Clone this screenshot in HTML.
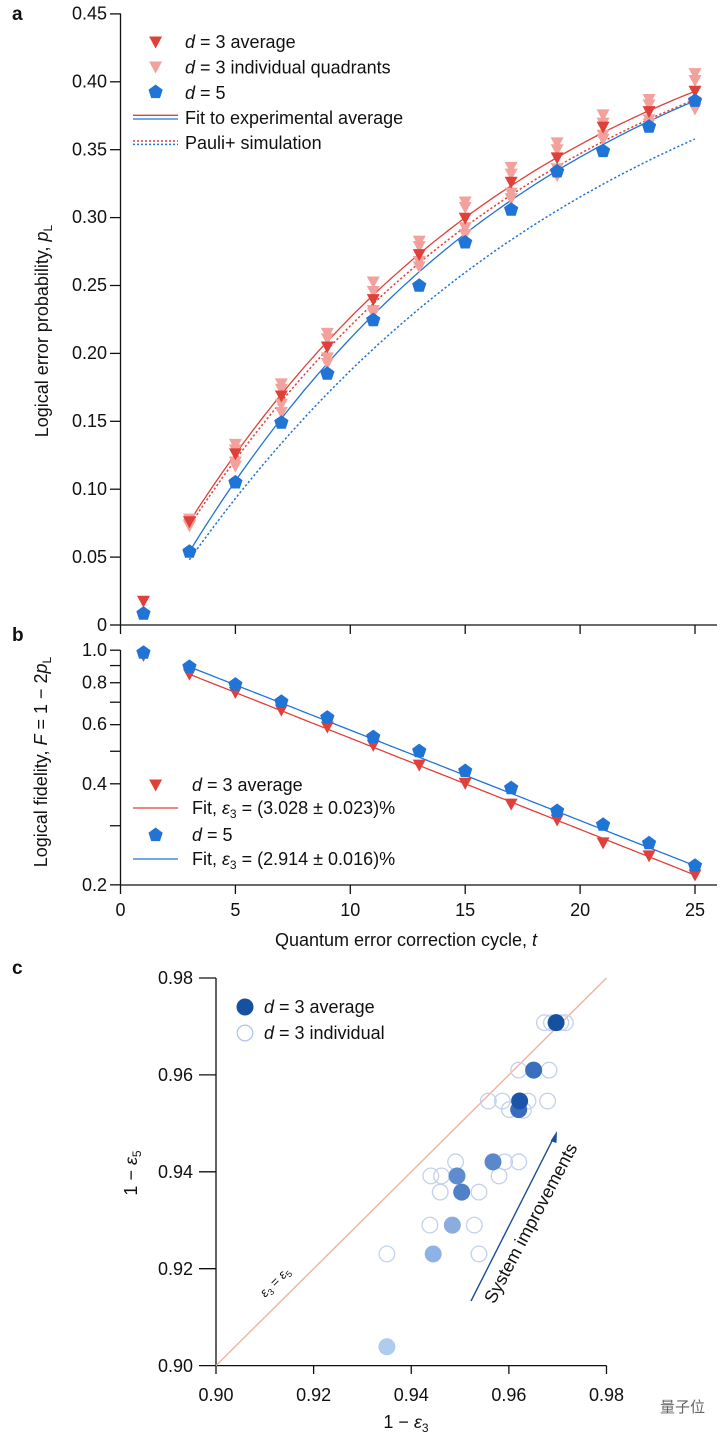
<!DOCTYPE html>
<html><head><meta charset="utf-8"><style>
body{margin:0;background:#fff}
svg{display:block;font-family:"Liberation Sans","Noto Sans CJK SC",sans-serif}
</style></head><body>
<svg id="s" width="724" height="1438" viewBox="0 0 724 1438" xmlns="http://www.w3.org/2000/svg">
<g id="g"></g>
<g font-size="18" fill="#111">
<text x="12" y="20" font-weight="bold" font-size="19">a</text>
<text x="12" y="641" font-weight="bold" font-size="19">b</text>
<text x="12" y="974" font-weight="bold" font-size="19">c</text>
<g text-anchor="end">
<text x="107" y="19.5">0.45</text><text x="107" y="87.5">0.40</text><text x="107" y="155.5">0.35</text>
<text x="107" y="223">0.30</text><text x="107" y="291">0.25</text><text x="107" y="359">0.20</text>
<text x="107" y="427">0.15</text><text x="107" y="495">0.10</text><text x="107" y="563">0.05</text>
<text x="107" y="631">0</text>
<text x="107" y="656">1.0</text><text x="107" y="688.5">0.8</text><text x="107" y="730">0.6</text>
<text x="107" y="790">0.4</text><text x="107" y="891">0.2</text>
<text x="193" y="984">0.98</text><text x="193" y="1081">0.96</text><text x="193" y="1178">0.94</text>
<text x="193" y="1275">0.92</text><text x="193" y="1372">0.90</text>
</g>
<g text-anchor="middle">
<text x="120.5" y="916">0</text><text x="235.4" y="916">5</text><text x="350.3" y="916">10</text>
<text x="465.2" y="916">15</text><text x="580.1" y="916">20</text><text x="695" y="916">25</text>
<text x="406" y="946">Quantum error correction cycle, <tspan font-style="italic">t</tspan></text>
<text x="216" y="1401">0.90</text><text x="313.6" y="1401">0.92</text><text x="411.3" y="1401">0.94</text>
<text x="508.9" y="1401">0.96</text><text x="606.5" y="1401">0.98</text>
<text x="406" y="1428">1 − <tspan font-style="italic">ε</tspan><tspan font-size="12" dy="4">3</tspan></text>
<text transform="translate(48,331) rotate(-90)">Logical error probability, <tspan font-style="italic">p</tspan><tspan font-size="12" dy="4">L</tspan></text>
<text transform="translate(47,762) rotate(-90)">Logical fidelity, <tspan font-style="italic">F</tspan> = 1 − 2<tspan font-style="italic">p</tspan><tspan font-size="12" dy="4">L</tspan></text>
<text transform="translate(137,1173) rotate(-90)">1 − <tspan font-style="italic">ε</tspan><tspan font-size="12" dy="4">5</tspan></text>
<text transform="translate(536,1226) rotate(-62)" font-size="18">System improvements</text>
<text transform="translate(278,1285) rotate(-45)" font-size="13"><tspan font-style="italic">ε</tspan><tspan font-size="9" dy="3">3</tspan><tspan dy="-3"> = </tspan><tspan font-style="italic">ε</tspan><tspan font-size="9" dy="3">5</tspan></text>
</g>
<text x="185" y="48"><tspan font-style="italic">d</tspan> = 3 average</text>
<text x="185" y="73.5"><tspan font-style="italic">d</tspan> = 3 individual quadrants</text>
<text x="185" y="99"><tspan font-style="italic">d</tspan> = 5</text>
<text x="185" y="124">Fit to experimental average</text>
<text x="185" y="149">Pauli+ simulation</text>
<text x="192" y="791"><tspan font-style="italic">d</tspan> = 3 average</text>
<text x="192" y="814">Fit, <tspan font-style="italic">ε</tspan><tspan font-size="12" dy="4">3</tspan><tspan dy="-4"> = (3.028 ± 0.023)%</tspan></text>
<text x="192" y="841"><tspan font-style="italic">d</tspan> = 5</text>
<text x="192" y="865">Fit, <tspan font-style="italic">ε</tspan><tspan font-size="12" dy="4">3</tspan><tspan dy="-4"> = (2.914 ± 0.016)%</tspan></text>
<text x="264" y="1013"><tspan font-style="italic">d</tspan> = 3 average</text>
<text x="264" y="1039"><tspan font-style="italic">d</tspan> = 3 individual</text>
<text x="660" y="1412" fill="#666" font-size="15">量子位</text>
</g>
</svg>
<script>
const g=document.getElementById('g');let h='';
const X=t=>120.5+t*22.98,Ya=p=>625-p/0.05*67.9,Yb=F=>650.2-Math.log(F)*145.8;
const RED='#e0403a',PINK='#f2a19c',BLUE='#1f74d6';
const L=(x1,y1,x2,y2,c='#111',w=1.3,extra='')=>h+=`<line x1="${x1}" y1="${y1}" x2="${x2}" y2="${y2}" stroke="${c}" stroke-width="${w}" ${extra}/>`;
const tri=(x,y,c)=>h+=`<polygon points="${x-6.5},${y-5.5} ${x+6.5},${y-5.5} ${x},${y+6.5}" fill="${c}"/>`;
const pent=(x,y,c)=>{let p=[];for(let i=0;i<5;i++){let a=-Math.PI/2+i*2*Math.PI/5;p.push((x+7.5*Math.cos(a)).toFixed(1)+','+(y+7.5*Math.sin(a)).toFixed(1));}h+=`<polygon points="${p.join(' ')}" fill="${c}"/>`;};
L(120.5,13.5,120.5,625);L(120.5,625,717,625);
for(let i=0;i<=9;i++){L(110,Ya(i*0.05),120.5,Ya(i*0.05));}
for(let t=0;t<=25;t+=5){L(X(t),625,X(t),634);}
L(120.5,650,120.5,885);L(120.5,885,717,885);
[1,.9,.8,.7,.6,.5,.4,.3,.2].forEach(f=>L(110,Yb(f),120.5,Yb(f)));
for(let t=0;t<=25;t+=5){L(X(t),885,X(t),894);}
const T=[1,3,5,7,9,11,13,15,17,19,21,23,25];
const P3=[.0175,.076,.126,.1686,.2047,.2396,.2727,.2995,.326,.344,.3666,.378,.393];
const P5=[.0084,.054,.105,.149,.185,.2245,.2498,.2817,.3058,.334,.349,.367,.386];
const off=[[.008,.004,-.003,-.008],[.002,-.002,0,-.003],[.007,.003,-.006,-.009],[.009,.005,-.006,-.012],[.01,.006,-.008,-.012],[.013,.006,-.008,-.01],[.01,.006,-.005,-.009],[.012,.008,-.007,-.012],[.011,.006,-.008,-.012],[.011,.006,-.008,-.013],[.009,.003,-.006,-.009],[.009,.005,-.006,-.009],[.013,.008,-.008,-.013]];
function curve(A,k,fp,c,dash,w){let a=[],b=[];for(let t=3;t<=25.01;t+=0.25){let F=A*Math.exp(-k*(t-3));a.push(X(t).toFixed(1)+','+Ya((1-F)/2).toFixed(1));b.push(X(t).toFixed(1)+','+Yb(F).toFixed(1));}
h+=`<polyline points="${a.join(' ')}" fill="none" stroke="${c}" stroke-width="${w}" ${dash?'stroke-dasharray="2.2,2.2"':''}/>`;if(fp)h+=`<polyline points="${b.join(' ')}" fill="none" stroke="${c}" stroke-width="${w}"/>`;}
curve(0.854,0.0604,false,RED,true,1.5);
curve(0.904,0.0526,false,BLUE,true,1.5);
curve(0.848,0.0626,true,RED,false,1.3);
curve(0.892,0.062,true,BLUE,false,1.3);
T.forEach((t,i)=>{if(i>0)off[i].forEach(o=>tri(X(t),Ya(P3[i]+o),PINK));});
T.forEach((t,i)=>{tri(X(t),Ya(P3[i]),RED);pent(X(t),Ya(P5[i]),BLUE);
 tri(X(t),Yb(1-2*P3[i]),RED);pent(X(t),Yb(1-2*P5[i]),BLUE);});
tri(155.6,42,RED);tri(155.6,67,PINK);pent(155.6,92,BLUE);
L(133,115.3,178,115.3,RED);L(133,119,178,119,BLUE);
L(133,141,178,141,RED,1.5,'stroke-dasharray="2,2"');L(133,144.4,178,144.4,BLUE,1.5,'stroke-dasharray="2,2"');
tri(155.6,785,RED);L(133,808,178,808,RED);pent(155.6,835,BLUE);L(133,859,178,859,BLUE);
const Xc=v=>216+(v-.9)/.08*390.5,Yc=v=>1365.6-(v-.9)/.08*387.6;
L(216,978,216,1365.6);L(216,1365.6,606.5,1365.6);
[.9,.92,.94,.96,.98].forEach(v=>{L(199,Yc(v),216,Yc(v));L(Xc(v),1365.6,Xc(v),1374);});
L(216,1365.6,606.5,978,'#f0b49c',1.4);
const zx=x=>x/2.14,zy=y=>900+y/2.91;
const open=[[1165,357],[1180,357],[1200,357],[1210,357],[1110,495],[1175,495],[1045,585],[1075,585],[1130,585],[1172,585],[1090,610],[1120,612],[975,762],[1080,762],[1110,762],[922,803],[945,803],[1068,803],[942,850],[1025,850],[920,946],[1015,946],[828,1030],[1025,1030]];
open.forEach(([x,y])=>h+=`<circle cx="${zx(x)}" cy="${zy(y)}" r="7.8" fill="none" stroke="#c3d1ec" stroke-width="1.3"/>`);
const fill=[[1190,357,'#1650a0'],[1142,495,'#3a6fc0'],[1110,610,'#3a6cbe'],[1112,585,'#1a55aa'],[1055,762,'#5a88cc'],[978,803,'#5f8ccf'],[988,850,'#5080c8'],[968,946,'#8aacdf'],[927,1030,'#8fb2e6'],[828,1300,'#b0cbf0']];
fill.forEach(([x,y,c])=>h+=`<circle cx="${zx(x)}" cy="${zy(y)}" r="8.5" fill="${c}"/>`);
h+=`<circle cx="245" cy="1007" r="8.5" fill="#1650a0"/><circle cx="245" cy="1033" r="7.8" fill="none" stroke="#b4c5e5" stroke-width="1.3"/>`;
L(471,1301,554,1137,'#1a4f96',1.4);
h+=`<polygon points="557,1131 550.5,1141 556.5,1143" fill="#1a4f96"/>`;
g.innerHTML=h;
</script>
</body></html>
